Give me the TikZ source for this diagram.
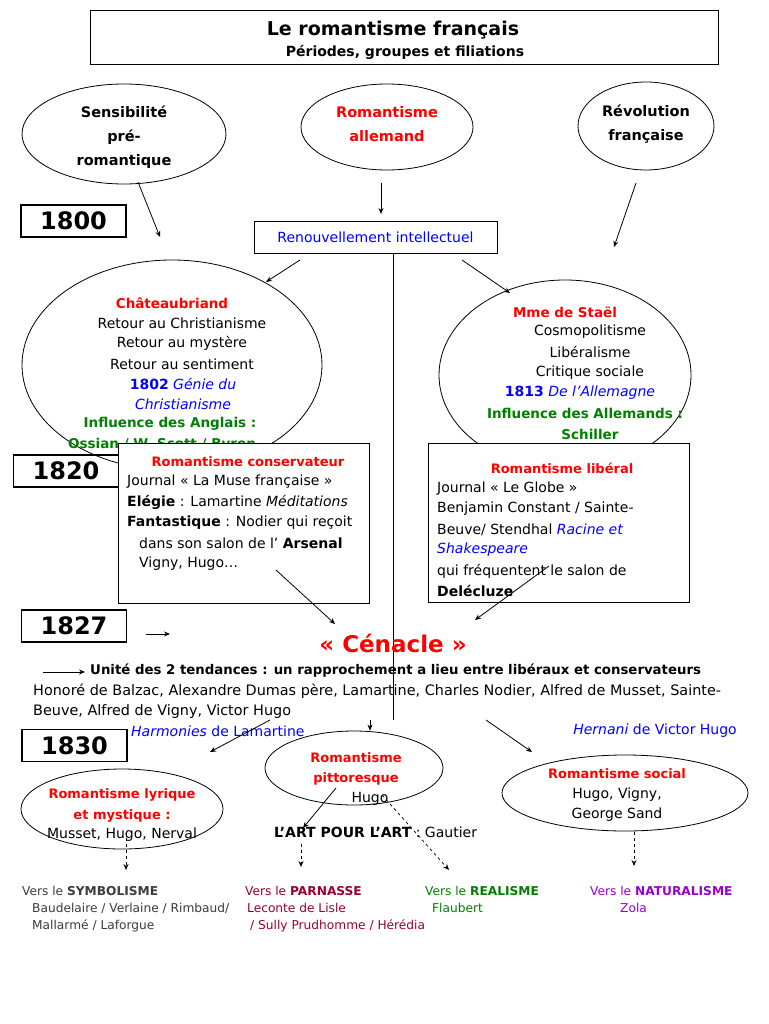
\documentclass[tikz,border=0pt]{standalone}
\usepackage{fontspec}
\setmainfont{DejaVu Sans}
\usetikzlibrary{shapes.geometric,arrows.meta}
\definecolor{myblue}{RGB}{0,0,255}
\definecolor{mygreen}{RGB}{0,128,0}
\definecolor{maroon}{RGB}{153,0,51}
\definecolor{purp}{RGB}{153,0,204}
\definecolor{dgray}{RGB}{60,60,60}
\newcommand\fm{\fontsize{14}{14}\selectfont}
\newcommand\fb{\fontsize{13.5}{13.5}\selectfont\bfseries}
\begin{document}
\begin{tikzpicture}[x=1pt,y=-1pt,
  ell/.style={draw,ellipse,line width=0.8pt},
  box/.style={draw,line width=0.8pt},
  yr/.style={draw,line width=1.2pt,font=\fontsize{24}{24}\selectfont\bfseries,minimum width=105pt,minimum height=32pt,inner sep=0pt},
  arr/.style={-{Stealth[length=6pt,width=5pt]},line width=0.8pt},
  darr/.style={-{Stealth[length=6pt,width=5pt]},line width=0.7pt,dashed},
  t/.style={font=\fm,inner sep=0pt},
  tb/.style={font=\fb,inner sep=0pt},
  s/.style={font=\fontsize{12.2}{12.2}\selectfont,inner sep=0pt,anchor=base west}]
\useasboundingbox (0,0) rectangle (768,1024);
\fill[white] (0,0) rectangle (768,1024);
% title
\node[box,minimum width=628pt,minimum height=54pt,inner sep=0pt] (title) at (404,37) {};
\node[font=\fontsize{19}{19}\selectfont\bfseries,inner sep=0pt] (t1) at (393,30) {Le romantisme français};
\node[font=\fontsize{14}{14}\selectfont\bfseries,inner sep=0pt] (t2) at (405,52) {Périodes, groupes et filiations};
% top ellipses
\node[ell,minimum width=204pt,minimum height=100pt] (e1) at (124,134) {};
\node[align=center,inner sep=0pt,font=\fontsize{14.5}{24}\selectfont\bfseries] at (124,137) {Sensibilité\\pré-\\romantique};
\node[ell,minimum width=172pt,minimum height=86pt] (e2) at (387,127) {};
\node[red,align=center,inner sep=0pt,font=\fontsize{14.5}{24}\selectfont\bfseries] at (387,124) {Romantisme\\allemand};
\node[ell,minimum width=136pt,minimum height=88pt] (e3) at (646,126) {};
\node[align=center,inner sep=0pt,font=\fontsize{14.5}{24}\selectfont\bfseries] at (646,124) {Révolution\\française};
\node[yr] (y1800) at (73.5,221) {1800};
\node[box,minimum width=243pt,minimum height=32pt,inner sep=0pt,text=myblue,font=\fm] (ren) at (375.5,237) {Renouvellement intellectuel};
\coordinate (a1s) at (138,182); \coordinate (a1e) at (160,237);
\coordinate (a2s) at (381,183); \coordinate (a2e) at (381,214);
\coordinate (a3s) at (636,183); \coordinate (a3e) at (614,247);
\draw[arr] (a1s) -- (a1e);
\draw[arr] (a2s) -- (a2e);
\draw[arr] (a3s) -- (a3e);
% middle ellipses
\node[ell,minimum width=300pt,minimum height=210pt] (ch) at (172,365) {};
\node[ell,minimum width=252pt,minimum height=190pt] (st) at (565,375) {};
\coordinate (r1) at (300,260); \coordinate (r1e) at (266,282);
\coordinate (r2) at (462,260); \coordinate (r2e) at (510,293);
\draw[arr] (r1) -- (r1e);
\draw[arr] (r2) -- (r2e);
\coordinate (vtop) at (393,253); \coordinate (vbot) at (393,720);
\draw[line width=0.8pt] (vtop) -- (vbot);
\begin{scope}[every node/.style={inner sep=0pt,font=\fm}]
\node[red,font=\fb] at (172,303) {Châteaubriand};
\node at (182,323) {Retour au Christianisme};
\node at (182,343) {Retour au mystère};
\node at (182,364) {Retour au sentiment};
\node[myblue] at (183,384) {\textbf{1802} \textit{Génie du}};
\node[myblue] at (183,404) {\textit{Christianisme}};
\node[mygreen,font=\fb] at (170,424) {Influence des Anglais :};
\node[mygreen,font=\fb,anchor=west] at (68,445) {Ossian / W. Scott / Byron};
\node[red,font=\fb] at (565,312) {Mme de Staël};
\node at (590,332) {Cosmopolitisme};
\node at (590,352) {Libéralisme};
\node at (590,373) {Critique sociale};
\node[myblue] at (580,393) {\textbf{1813} \textit{De l'Allemagne}};
\node[mygreen,font=\fb] at (585,413) {Influence des Allemands :};
\node[mygreen,font=\fb] at (590,434) {Schiller};
\end{scope}
\node[yr] (y1820) at (66,471) {1820};
% boxes
\node[box,fill=white,minimum width=251pt,minimum height=160pt,inner sep=0pt] (cons) at (243.5,523) {};
\node[box,fill=white,minimum width=261pt,minimum height=159pt,inner sep=0pt] (lib) at (558.5,522.5) {};
\begin{scope}[every node/.style={inner sep=0pt,anchor=west,font=\fm}]
\node[red,anchor=center,font=\fontsize{13}{13}\selectfont\bfseries] at (248,462) {Romantisme conservateur};
\node at (127,482) {Journal « La Muse française »};
\node at (127,502) {\textbf{Elégie} : Lamartine \textit{Méditations}};
\node at (127,523) {\textbf{Fantastique} : Nodier qui reçoit};
\node at (139,543) {dans son salon de l’ \textbf{Arsenal}};
\node at (139,564) {Vigny, Hugo…};
\node[red,anchor=center,font=\fontsize{13}{13}\selectfont\bfseries] at (562,468) {Romantisme libéral};
\node at (437,489) {Journal « Le Globe »};
\node at (437,509) {Benjamin Constant / Sainte-};
\node at (437,530) {Beuve/ Stendhal \textcolor{myblue}{\textit{Racine et}}};
\node[myblue] at (437,550) {\textit{Shakespeare}};
\node at (437,571) {qui fréquentent le salon de};
\node at (437,591) {\textbf{Delécluze}};
\end{scope}
% cenacle
\node[yr] (y1827) at (74,626) {1827};
\node[red,inner sep=0pt,font=\fontsize{23}{23}\selectfont\bfseries] (cen) at (393,643) {« Cénacle »};
\coordinate (c1) at (276,570); \coordinate (c1e) at (335,624);
\coordinate (c2) at (549,566); \coordinate (c2e) at (475,620);
\draw[arr] (c1) -- (c1e);
\draw[arr] (c2) -- (c2e);
\coordinate (q1) at (146,634); \coordinate (q2) at (170,634);
\draw[arr] (q1) -- (q2);
\coordinate (u1) at (43,672); \coordinate (u2) at (85,672);
\draw[arr] (u1) -- (u2);
\node[anchor=west,inner sep=0pt,font=\fontsize{13.3}{13.3}\selectfont\bfseries] (un) at (90,671) {Unité des 2 tendances : un rapprochement a lieu entre libéraux et conservateurs};
\node[anchor=west,inner sep=0pt,font=\fontsize{14.4}{14.4}\selectfont] at (33,691) {Honoré de Balzac, Alexandre Dumas père, Lamartine, Charles Nodier, Alfred de Musset, Sainte-};
\node[anchor=west,inner sep=0pt,font=\fontsize{14.4}{14.4}\selectfont] at (33,712) {Beuve, Alfred de Vigny, Victor Hugo};
\node[yr] (y1830) at (74.5,745.5) {1830};
\node[t,anchor=west,myblue] at (131,731) {\textit{Harmonies} de Lamartine};
\node[t,anchor=east,myblue] at (737,731) {\textit{Hernani} de Victor Hugo};
% bottom ellipses
\node[ell,minimum width=178pt,minimum height=74pt] (pit) at (354,768) {};
\node[red,align=center,inner sep=0pt,font=\fontsize{13}{20}\selectfont\bfseries] at (356,769) {Romantisme\\pittoresque};
\node[t] at (370,799) {Hugo};
\node[ell,minimum width=202pt,minimum height=80pt] (lyr) at (122,809) {};
\node[red,align=center,inner sep=0pt,font=\fontsize{13}{21}\selectfont\bfseries] at (122,805) {Romantisme lyrique\\et mystique :};
\node[t] at (122,835) {Musset, Hugo, Nerval};
\node[ell,minimum width=246pt,minimum height=76pt] (soc) at (625,793) {};
\node[red,inner sep=0pt,font=\fontsize{13}{13}\selectfont\bfseries] at (617,774) {Romantisme social};
\node[t,align=center,font=\fontsize{14}{20}\selectfont] at (617,805) {Hugo, Vigny,\\George Sand};
\coordinate (d1) at (270,720); \coordinate (d1e) at (210,752);
\coordinate (d2) at (486,720); \coordinate (d2e) at (532,752);
\coordinate (d3) at (370,720);
\draw[arr] (d1) -- (d1e);
\draw[arr] (d3) -- (pit.north -| d3);
\draw[arr] (d2) -- (d2e);
\node[t,anchor=west] (art) at (274,832) {\textbf{L’ART POUR L’ART} : Gautier};
\coordinate (p1) at (336,788); \coordinate (p1e) at (303,828);
\draw[arr] (p1) -- (p1e);
\coordinate (g1) at (301,844); \coordinate (g1e) at (301,867);
\coordinate (g2) at (382,795); \coordinate (g2e) at (449,870);
\coordinate (g3) at (126,832); \coordinate (g3e) at (126,870);
\coordinate (g4) at (634,832); \coordinate (g4e) at (634,866);
\draw[darr] (g1) -- (g1e);
\draw[darr] (g2) -- (g2e);
\draw[darr] (g3) -- (g3e);
\draw[darr] (g4) -- (g4e);
% bottom texts
\node[s,dgray] at (22,895) {Vers le \textbf{SYMBOLISME}};
\node[s,dgray] at (32,912) {Baudelaire / Verlaine / Rimbaud/};
\node[s,dgray] at (32,929) {Mallarmé / Laforgue};
\node[s,maroon] at (245,895) {Vers le \textbf{PARNASSE}};
\node[s,maroon] at (247,912) {Leconte de Lisle};
\node[s,maroon] at (250,929) {/ Sully Prudhomme / Hérédia};
\node[s,mygreen] at (425,895) {Vers le \textbf{REALISME}};
\node[s,mygreen] at (432,912) {Flaubert};
\node[s,purp] at (590,895) {Vers le \textbf{NATURALISME}};
\node[s,purp] at (620,912) {Zola};
\end{tikzpicture}
\end{document}
